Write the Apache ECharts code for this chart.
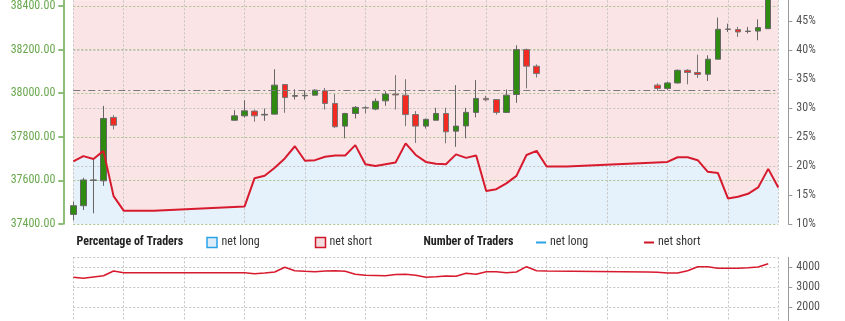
<!DOCTYPE html>
<html>
<head>
<meta charset="utf-8">
<script src="https://cdn.jsdelivr.net/npm/echarts@6/dist/echarts.min.js"></script>
<style>
html,body{margin:0;padding:0;background:#fff;}
#c{width:845px;height:321px;}
</style>
</head>
<body>
<div id="c"></div>
<script>
// ---- data ----
var slotHours = [];
for (var k = 0; k <= 70; k++) { slotHours.push((((k - 5) % 6 + 6) % 6) * 4); }
var categories = slotHours.map(function (h, k) { return 'S' + k + ' ' + (h < 10 ? '0' : '') + h + ':00'; });

// OHLC per 4h slot (null = no trading)
var openP  = [37444,37484,37600,37598,37889,null,null,null,null,null,null,null,null,null,null,null,37876,37896,37918,37900,37904,38040,37986,37988,37991,38011,37953,37849,37907,37934,37927,37965,37996,37991,37902,37849,37876,37907,37826,37850,37912,37976,37971,37912,37994,38200,38124,null,null,null,null,null,null,null,null,null,null,null,38037,38022,38047,38105,38095,38087,38156,38293,38292,38283,38285,38296,38432];
var closeP = [37484,37602,37602,37884,37853,null,null,null,null,null,null,null,null,null,null,null,37896,37919,37896,37903,38037,37980,37989,37990,38014,37953,37846,37907,37935,37932,37963,37996,37992,37902,37849,37880,37907,37823,37849,37912,37976,37970,37912,37991,38200,38124,38090,null,null,null,null,null,null,null,null,null,null,null,38022,38047,38105,38095,38086,38156,38293,38294,38281,38285,38301,38430,38450];
var lowP   = [37418,37464,37449,37575,37834,null,null,null,null,null,null,null,null,null,null,null,37874,37889,37869,37873,37904,37910,37971,37971,37991,37925,37841,37793,37884,37907,37922,37942,37925,37849,37772,37838,37876,37770,37754,37793,37889,37963,37902,37910,37956,38022,38072,null,null,null,null,null,null,null,null,null,null,null,38011,38014,38045,38041,38070,38056,38156,38281,38258,38274,38243,38296,38394];
var highP  = [37502,37612,37698,37942,37899,null,null,null,null,null,null,null,null,null,null,null,37922,37968,37925,37930,38110,38042,38018,38010,38018,38024,37996,37910,37941,37941,37976,38009,38083,38064,37918,37884,37933,37933,38037,37933,38060,37988,37973,38017,38220,38205,38132,null,null,null,null,null,null,null,null,null,null,null,38045,38052,38109,38110,38177,38174,38347,38319,38304,38304,38339,38440,38460];

var currentPrice = 38012;

// percentage of traders net long (%)
var pctNetLong = [20.8,21.7,21.2,22.6,14.8,12.3,null,null,12.3,null,null,null,null,null,null,null,null,13.0,17.9,18.3,19.7,21.3,23.4,20.9,21.0,21.6,21.8,21.8,23.6,20.3,20.0,20.3,20.6,23.9,21.9,20.7,20.4,20.3,22.0,21.4,21.8,15.7,16.0,17.0,18.3,21.9,22.6,19.9,null,19.9,null,null,null,null,null,null,null,null,null,20.7,21.5,21.5,21.0,19.0,18.8,14.4,14.7,15.2,16.3,19.5,16.3];

// number of traders net short
var numNetShort = [3500,3450,3515,3580,3815,3730,null,null,null,null,null,null,null,null,null,null,null,3730,3680,3720,3765,4000,3830,3800,3780,3810,3830,3800,3650,3600,3590,3580,3640,3650,3600,3500,3530,3570,3550,3700,3650,3780,3780,3730,3765,4030,3830,3810,null,null,null,null,null,null,null,null,null,3760,3750,3715,3715,3830,4030,4030,3950,3950,3950,3980,4015,4180];

var priceTicks = [37400, 38400, 200];
var pctTicks = [10, 5];
var numRange = [1315, 4500, 1000];

// ---- build ----
var candleData = categories.map(function (c, k) {
  return openP[k] == null ? '-' : [openP[k], closeP[k], lowP[k], highP[k]];
});

var FONT = "'Liberation Sans Narrow','Arial Narrow','Roboto Condensed',sans-serif";
var GREEN = '#6aa84f';
var GRIDGREEN = '#a9c48c';
var GRIDGRAY = '#c4c4c4';

function vSplit(idx) { return idx === 0 || idx === 70 || (idx - 5) % 6 === 0; }

var chart = echarts.init(document.getElementById('c'), null, {renderer: 'canvas'});
var option = {
  animation: false,
  backgroundColor: '#fff',
  grid: [
    {left: 73.3, right: 66.7, top: 0, bottom: 97, show: true, backgroundColor: '#fbe4e5', borderWidth: 0},
    {left: 73.3, right: 66.7, top: 257.3, bottom: 0, show: false}
  ],
  xAxis: [
    {type: 'category', gridIndex: 0, data: categories, boundaryGap: false, z: 2,
     axisLine: {show: false}, axisTick: {show: false}, axisLabel: {show: false},
     splitLine: {show: true, interval: vSplit, lineStyle: {color: GRIDGRAY, type: [2, 2], width: 1}}},
    {type: 'category', gridIndex: 1, data: categories, boundaryGap: false, z: 2,
     axisLine: {show: false}, axisTick: {show: false}, axisLabel: {show: false},
     splitLine: {show: true, interval: vSplit, lineStyle: {color: GRIDGRAY, type: [2, 2], width: 1}}}
  ],
  yAxis: [
    {type: 'value', gridIndex: 0, position: 'left', offset: 10, z: 2,
     min: priceTicks[0], max: priceTicks[1] + 26, interval: priceTicks[2],
     axisLine: {show: true, lineStyle: {color: GREEN, width: 1.5}},
     axisTick: {show: true, length: 5, lineStyle: {color: GREEN, width: 1.5}},
     axisLabel: {showMaxLabel: false, color: GREEN, fontFamily: FONT, fontSize: 12, margin: 8,
                 formatter: function (v) { return v.toFixed(2); }},
     splitLine: {show: true, showMaxLine: false, lineStyle: {color: GRIDGREEN, type: [2, 2], width: 1}}},
    {type: 'value', gridIndex: 0, position: 'right', offset: 10, z: 2,
     min: pctTicks[0], max: 48.55, interval: pctTicks[1],
     axisLine: {show: true, lineStyle: {color: '#999', width: 1}},
     axisTick: {show: true, length: 4, lineStyle: {color: '#999'}},
     axisLabel: {showMaxLabel: false, color: '#555', fontFamily: FONT, fontSize: 12, margin: 8,
                 formatter: '{value}%'},
     splitLine: {show: false}},
    {type: 'value', gridIndex: 0, position: 'right', z: 2,
     min: pctTicks[0], max: 48.55, interval: 10,
     axisLine: {show: false}, axisTick: {show: false}, axisLabel: {show: false},
     splitLine: {show: true, showMaxLine: false, showMinLine: false, lineStyle: {color: GRIDGRAY, type: [2, 2], width: 1}}},
    {type: 'value', gridIndex: 1, position: 'right', offset: 10, z: 2,
     min: numRange[0], max: numRange[1], minInterval: numRange[2], maxInterval: numRange[2], splitNumber: 3,
     axisLine: {show: true, lineStyle: {color: '#999', width: 1}},
     axisTick: {show: true, length: 4, lineStyle: {color: '#999'}},
     axisLabel: {showMaxLabel: false, showMinLabel: false, color: '#555', fontFamily: FONT, fontSize: 12, margin: 8,
                 formatter: function (v) { return String(v); }},
     splitLine: {show: true, showMinLine: false, lineStyle: {color: GRIDGRAY, type: [2, 2], width: 1}}}
  ],
  series: [
    {type: 'line', name: 'area', xAxisIndex: 0, yAxisIndex: 1, data: pctNetLong, connectNulls: true,
     symbol: 'none', z: 1, silent: true, lineStyle: {width: 0}, areaStyle: {color: '#e5f2fb', origin: 'start', opacity: 1}},
    {type: 'candlestick', name: 'price', xAxisIndex: 0, yAxisIndex: 0, data: candleData, z: 3,
     barWidth: 6, clip: true,
     itemStyle: {color: '#2f8a10', color0: '#f22a22', borderColor: '#666', borderColor0: '#777', borderWidth: 1},
     markLine: {silent: true, symbol: ['none', 'none'], label: {show: false},
                lineStyle: {color: '#7a7a7a', type: [7, 3, 2, 3], width: 1},
                data: [{yAxis: currentPrice}]}},
    {type: 'line', name: 'pct', xAxisIndex: 0, yAxisIndex: 1, data: pctNetLong, connectNulls: true,
     symbol: 'none', z: 4, lineStyle: {color: '#d71a2d', width: 2}},
    {type: 'line', name: 'num short', xAxisIndex: 1, yAxisIndex: 3, data: numNetShort, connectNulls: true,
     symbol: 'none', z: 4, lineStyle: {color: '#d71a2d', width: 1.5}}
  ],
  graphic: [
    {type: 'text', left: 76.5, top: 236, style: {text: 'Percentage of Traders', font: 'bold 12px ' + FONT, fill: '#222'}},
    {type: 'rect', shape: {x: 207, y: 237.5, width: 10, height: 10}, style: {fill: '#dcedf9', stroke: '#2aa3e6', lineWidth: 1.5}},
    {type: 'text', left: 221.5, top: 236, style: {text: 'net long', font: '12px ' + FONT, fill: '#333'}},
    {type: 'rect', shape: {x: 315.5, y: 237.5, width: 10, height: 10}, style: {fill: '#f2dcdd', stroke: '#d11528', lineWidth: 1.5}},
    {type: 'text', left: 329.5, top: 236, style: {text: 'net short', font: '12px ' + FONT, fill: '#333'}},
    {type: 'text', left: 423.5, top: 236, style: {text: 'Number of Traders', font: 'bold 12px ' + FONT, fill: '#222'}},
    {type: 'rect', shape: {x: 536, y: 241.5, width: 10, height: 2}, style: {fill: '#2aa3e6'}},
    {type: 'text', left: 550, top: 236, style: {text: 'net long', font: '12px ' + FONT, fill: '#333'}},
    {type: 'rect', shape: {x: 644, y: 241.5, width: 10, height: 2}, style: {fill: '#d11528'}},
    {type: 'text', left: 658, top: 236, style: {text: 'net short', font: '12px ' + FONT, fill: '#333'}}
  ]
};
chart.setOption(option);
</script>
</body>
</html>
